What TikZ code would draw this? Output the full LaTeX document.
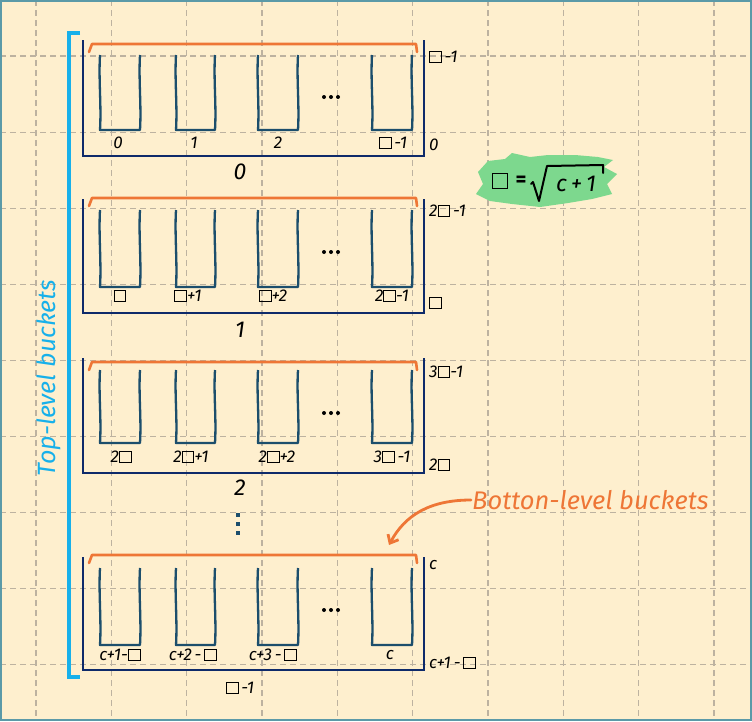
\documentclass[tikz,border=0pt]{standalone}
\usepackage{fontspec}
\setmainfont{Fira Sans}
\usetikzlibrary{arrows.meta}
\definecolor{bg}{HTML}{FEEFCE}
\definecolor{edge}{HTML}{5B9AA8}
\definecolor{gridc}{HTML}{BDB2A0}
\definecolor{navy}{HTML}{0E2A6A}
\definecolor{teal}{HTML}{1C4E6C}
\definecolor{orng}{HTML}{EE7636}
\definecolor{cyanb}{HTML}{17B0EA}
\definecolor{blob}{HTML}{7DD88E}
\newcommand{\sqb}{{\setlength{\fboxsep}{0pt}\setlength{\fboxrule}{0.9pt}\framebox{\rule{0pt}{0.64em}\hspace{0.64em}}}}
\newcommand{\bkt}[4]{\draw[bucket] (#1,#3) .. controls ({#1-1.5},{#3+25}) and ({#1+1.5},{#4-25}) .. (#1,#4) -- (#2,#4) .. controls ({#2+1.5},{#4-25}) and ({#2-1.5},{#3+25}) .. (#2,#3);}
\newcommand{\grp}[6]{%
  \draw[frame] (83,#1) -- (83,#2) -- (424,#2) -- (424,#1);
  \draw[brk] (89,{#3+8}) -- (92,#3) -- (416,#3) -- (417,{#3+8});
  \bkt{100}{140}{#4}{#5}
  \bkt{176}{215}{#4}{#5}
  \bkt{258}{298}{#4}{#5}
  \bkt{372}{412}{#4}{#5}
  \foreach \dx in {324,331,338} \fill (\dx,#6) circle (2);
}
\begin{document}
\begin{tikzpicture}[x=1pt,y=-1pt,
  bucket/.style={draw=teal,line width=2.3pt,line join=round},
  frame/.style={draw=navy,line width=2.6pt,line join=miter},
  brk/.style={draw=orng,line width=2.6pt,line join=round,line cap=round},
  gridl/.style={draw=gridc,line width=1.1pt,dash pattern=on 6pt off 4pt},
  lbl/.style={font=\fontsize{17}{18}\selectfont\itshape,inner sep=1pt},
  rlbl/.style={font=\fontsize{17}{18}\selectfont\itshape,inner sep=1pt,anchor=west},
  big/.style={font=\fontsize{23}{24}\selectfont\itshape,inner sep=1pt}]
\useasboundingbox (0,0) rectangle (752,721);
\fill[bg] (0,0) rectangle (752,721);
\foreach \k in {0,...,9} \draw[gridl] ({36+75.33*\k},0) -- ({36+75.33*\k},721);
\foreach \k in {0,...,8} \draw[gridl] (0,{56+76.1*\k}) -- (752,{56+76.1*\k});
\draw[edge,line width=1.6pt] (0.8,0.8) rectangle (751.2,720.2);
% top-level bracket
\draw[cyanb,line width=3.6pt,line join=miter] (80,33) -- (69,33) -- (69,677) -- (80,677);
\node[cyanb,rotate=90,font=\fontsize{25}{26}\selectfont\itshape] (toplab) at (49,378) {Top-level buckets};
% groups
\grp{40}{156}{44}{55}{130}{97}
\grp{199}{313}{198}{210}{287}{252}
\grp{358}{473}{362}{370}{443}{413}
\grp{557}{670}{555}{568}{645}{610}
% group 0 labels
\node[lbl] (a0) at (118,143) {0};
\node[lbl] (a1) at (194,143) {1};
\node[lbl] (a2) at (278,143) {2};
\node[lbl] (a3) at (393,143) {\sqb\,-1};
\node[rlbl] (ar1) at (428,57) {\sqb\,-1};
\node[rlbl] (ar0) at (428,145) {0};
\node[big] (g0) at (240,172) {0};
% group 1 labels
\node[lbl] (b0) at (120,296) {\sqb};
\node[lbl] (b1) at (188,296) {\sqb+1};
\node[lbl] (b2) at (273,296) {\sqb+2};
\node[lbl] (b3) at (392,296) {2\sqb-1};
\node[rlbl] (br1) at (428,211) {2\sqb\,-1};
\node[rlbl] (br0) at (428,303) {\sqb};
\node[big] (g1) at (240,330) {1};
% group 2 labels
\node[lbl] (c0) at (121,457) {2\sqb};
\node[lbl] (c1) at (191,457) {2\sqb+1};
\node[lbl] (c2) at (277,457) {2\sqb+2};
\node[lbl] (c3) at (392,457) {3\sqb\,-1};
\node[rlbl] (cr1) at (428,372) {3\sqb-1};
\node[rlbl] (cr0) at (428,465) {2\sqb};
\node[big] (g2) at (240,488) {2};
% vertical dots
\foreach \yy in {515,524,533} \fill[teal] (236,{\yy-2}) rectangle (240,{\yy+2});
% group 3 labels
\node[lbl] (d0) at (120,655) {c+1-\sqb};
\node[lbl] (d1) at (193,655) {c+2\,-\,\sqb};
\node[lbl] (d2) at (273,655) {c+3\,-\,\sqb};
\node[lbl] (d3) at (390,655) {c};
\node[rlbl] (dr1) at (428,565) {c};
\node[rlbl] (dr0) at (428,663) {c+1\,-\,\sqb};
\node[lbl] (g3) at (240,688) {\sqb\,-1};
% formula
\fill[blob] (478,172) -- (488,161) -- (505,159) -- (512,153) -- (530,157) -- (548,155) -- (575,155) -- (598,157) -- (613,160) -- (604,167) -- (617,174) -- (607,184) -- (612,194) -- (592,199) -- (568,203) -- (540,207) -- (512,204) -- (490,201) -- (476,194) -- (483,184) -- cycle;
\node[font=\fontsize{21}{22}\selectfont,inner sep=0pt] (fsq) at (500,181) {\sqb};
\node[font=\fontsize{21}{22}\selectfont\bfseries,inner sep=0pt] (feq) at (521,181) {=};
\node[font=\fontsize{23}{24}\selectfont\itshape,inner sep=0pt] (fc) at (576,184) {c\,+\,1};
\draw[black,line width=2pt,line join=round,line cap=round] (531,184) -- (533,182) -- (539,201) -- (547,166) -- (603,165) -- (603,173);
% bottom-level label and arrow
\node[orng,font=\fontsize{25.5}{26}\selectfont\itshape,anchor=west,inner sep=1pt] (botlab) at (471,500) {Botton-level buckets};
\coordinate (tip) at (389,545);
\draw[orng,line width=2.8pt,line cap=round,-{Straight Barb[length=7pt,width=12pt]}] (botlab.west) .. controls (430,500) and (405,515) .. (tip);
\end{tikzpicture}
\end{document}
